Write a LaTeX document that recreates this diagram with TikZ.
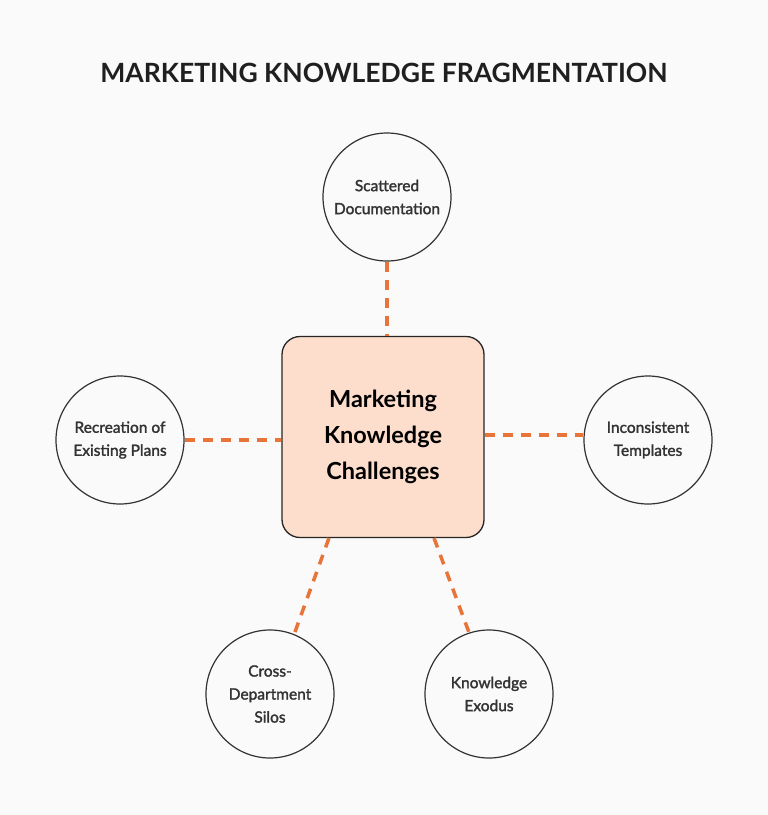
\documentclass[tikz,border=0pt]{standalone}
\usepackage{fontspec}
\setmainfont{Lato}
\newfontfamily\cf{Lato}[FakeBold=1.8]
\definecolor{dashc}{RGB}{232,116,58}
\definecolor{boxc}{RGB}{253,221,203}
\definecolor{bgc}{RGB}{250,250,250}
\begin{document}
\begin{tikzpicture}[x=1pt,y=-1pt,
  circ/.style={circle,draw=black!80,line width=1.2pt,fill=bgc,minimum size=128pt,inner sep=0pt,align=center,font=\cf\fontsize{15.5}{23}\selectfont,text=black!80},
  dashln/.style={draw=dashc,line width=3.5pt,dash pattern=on 10pt off 8pt}]
\fill[bgc] (0,0) rectangle (768,815);
\useasboundingbox (0,0) rectangle (768,815);
\node[font=\bfseries\fontsize{26.5}{30}\selectfont,text=black!88] (title) at (384,73) {MARKETING KNOWLEDGE FRAGMENTATION};
\node[draw=black!85,line width=1.3pt,rounded corners=18pt,fill=boxc,minimum width=202pt,minimum height=201pt,align=center,font=\bfseries\fontsize{23.5}{36}\selectfont,text=black] (c) at (383,437) {Marketing\\Knowledge\\Challenges};
\node[circ] (t) at (387,197) {Scattered\\Documentation};
\node[circ] (l) at (120,440) {Recreation of\\Existing Plans};
\node[circ] (r) at (648,440) {Inconsistent\\Templates};
\node[circ] (bl) at (270,694) {Cross-\\Department\\Silos};
\node[circ] (br) at (489,694) {Knowledge\\Exodus};
\coordinate (cbl) at (329,538);
\coordinate (cbr) at (434,538);
\draw[dashln] (t.south) -- (t.south |- c.north);
\draw[dashln] (l.east) -- (c.west |- l.east);
\draw[dashln] (c.east |- 0,435) -- (r.west |- 0,435);
\draw[dashln] (cbl) -- (bl.68);
\draw[dashln] (cbr) -- (br.108);
\end{tikzpicture}
\end{document}
